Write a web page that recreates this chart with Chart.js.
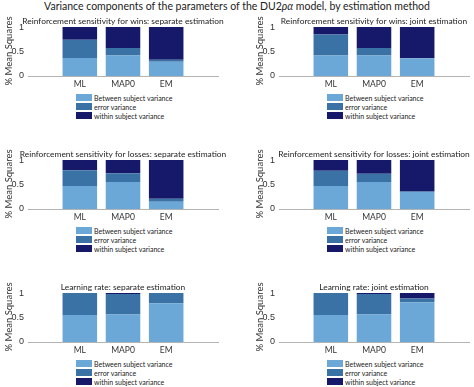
<!DOCTYPE html>
<html><head><meta charset="utf-8">
<script src="https://cdn.jsdelivr.net/npm/chart.js@4"></script>
<style>
html,body{margin:0;padding:0;background:#fff;width:474px;height:387px;overflow:hidden;}
body{position:relative;font-family:Lato,sans-serif;color:#222;}
#main{position:absolute;left:0;top:0;width:474px;text-align:center;font-size:10.5px;line-height:12px;white-space:nowrap;}
canvas{position:absolute;}
.ylab{position:absolute;font-size:9.5px;line-height:10px;white-space:nowrap;transform:translate(-50%,-50%) rotate(-90deg);color:#333;}
.legend{position:absolute;font-size:7px;color:#222;}
.legend .row{height:9px;line-height:9px;white-space:nowrap;}
.legend .box{display:inline-block;width:16px;height:7px;vertical-align:middle;margin-right:2px;position:relative;top:-1px;}
</style></head>
<body>
<div id="main">Variance components of the parameters of the DU2<i>ρα</i> model, by estimation method</div>
<script>
const categories = ['ML', 'MAP0', 'EM'];
const seriesLabels = ['Between subject variance', 'error variance', 'within subject variance'];
const seriesColors = ['#6ba7d7', '#3b72a5', '#16186a'];
const yTicks = [0, 0.5, 1];
const panelTitles = [
  'Reinforcement sensitivity for wins: separate estimation',
  'Reinforcement sensitivity for wins: joint estimation',
  'Reinforcement sensitivity for losses: separate estimation',
  'Reinforcement sensitivity for losses: joint estimation',
  'Learning rate: separate estimation',
  'Learning rate: joint estimation'
];
// values per panel: [between, error, within], each over categories ML, MAP0, EM
const winsSepBetween = [0.37, 0.42, 0.29];
const winsSepError   = [0.37, 0.15, 0.04];
const winsSepWithin  = [0.26, 0.43, 0.67];
const winsJointBetween = [0.42, 0.42, 0.36];
const winsJointError   = [0.43, 0.15, 0.01];
const winsJointWithin  = [0.15, 0.43, 0.63];
const lossSepBetween = [0.47, 0.55, 0.15];
const lossSepError   = [0.32, 0.18, 0.06];
const lossSepWithin  = [0.21, 0.27, 0.79];
const lossJointBetween = [0.47, 0.55, 0.35];
const lossJointError   = [0.31, 0.17, 0.01];
const lossJointWithin  = [0.22, 0.28, 0.64];
const lrSepBetween = [0.55, 0.56, 0.79];
const lrSepError   = [0.45, 0.42, 0.21];
const lrSepWithin  = [0.00, 0.02, 0.00];
const lrJointBetween = [0.55, 0.56, 0.81];
const lrJointError   = [0.45, 0.42, 0.08];
const lrJointWithin  = [0.00, 0.02, 0.11];

const panels = [
  [winsSepBetween, winsSepError, winsSepWithin],
  [winsJointBetween, winsJointError, winsJointWithin],
  [lossSepBetween, lossSepError, lossSepWithin],
  [lossJointBetween, lossJointError, lossJointWithin],
  [lrSepBetween, lrSepError, lrSepWithin],
  [lrJointBetween, lrJointError, lrJointWithin]
];

const COL_X = [0, 251];
const ROW_H = 133;
const FONT = 'Lato';

panels.forEach((series, p) => {
  const col = p % 2, row = Math.floor(p / 2);
  const left = COL_X[col], top = 13 + ROW_H * row;
  const cv = document.createElement('canvas');
  cv.width = 246; cv.height = 80;
  cv.style.left = left + 'px'; cv.style.top = top + 'px';
  document.body.appendChild(cv);

  const yl = document.createElement('div');
  yl.className = 'ylab';
  yl.textContent = '% Mean Squares';
  yl.style.left = (left + 9) + 'px';
  yl.style.top = (top + 38) + 'px';
  document.body.appendChild(yl);

  const chart = new Chart(cv, {
    type: 'bar',
    data: {
      datasets: series.map((vals, k) => ({
        label: seriesLabels[k],
        data: vals.map((v, i) => ({ x: i + 1, y: v })),
        backgroundColor: seriesColors[k],
        borderWidth: 0,
        barPercentage: 0.8,
        categoryPercentage: 1
      }))
    },
    options: {
      responsive: false,
      animation: false,
      devicePixelRatio: 1,
      layout: { padding: 0 },
      plugins: {
        legend: { display: false },
        tooltip: { enabled: false },
        title: {
          display: true, text: panelTitles[p], color: '#222',
          font: { family: FONT, size: 8.4, weight: 'normal', lineHeight: 1.2 },
          padding: { top: 3.5, bottom: 0.5 }
        }
      },
      scales: {
        x: {
          type: 'linear', min: -0.2, max: 4.2, stacked: true, offset: false,
          grid: { display: false, drawTicks: false, offset: false },
          border: { display: true, color: '#b4b4b4', width: 1 },
          afterBuildTicks: s => { s.ticks = categories.map((c, i) => ({ value: i + 1 })); },
          ticks: {
            callback: v => categories[v - 1], autoSkip: false, maxRotation: 0,
            color: '#333', padding: 3, font: { family: FONT, size: 8.5 }
          },
          afterFit: s => { s.height = 17; }
        },
        y: {
          min: 0, max: 1, stacked: true,
          grid: { display: false, drawTicks: false },
          border: { display: false },
          afterBuildTicks: s => { s.ticks = yTicks.map(v => ({ value: v })); },
          ticks: {
            callback: v => String(v), color: '#333', padding: 4,
            font: { family: 'Liberation Sans', size: 9 }
          },
          afterFit: s => { s.width = 28; }
        },
        yr: {
          type: 'linear', position: 'right', display: true,
          grid: { display: false, drawTicks: false }, border: { display: false },
          ticks: { display: false },
          afterFit: s => { s.width = 28; }
        }
      }
    }
  });

  const lg = document.createElement('div');
  lg.className = 'legend';
  lg.style.left = (left + 76) + 'px';
  lg.style.top = (93.5 + ROW_H * row) + 'px';
  chart.data.datasets.forEach(ds => {
    const r = document.createElement('div');
    r.className = 'row';
    const b = document.createElement('span');
    b.className = 'box';
    b.style.background = ds.backgroundColor;
    r.appendChild(b);
    r.appendChild(document.createTextNode(ds.label));
    lg.appendChild(r);
  });
  document.body.appendChild(lg);
});
</script>
</body></html>
